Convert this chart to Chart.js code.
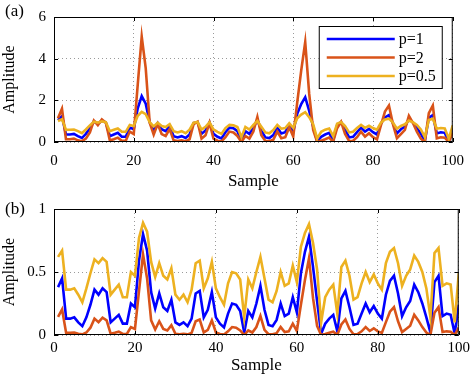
<!DOCTYPE html>
<html>
<head>
<meta charset="utf-8">
<script src="https://cdn.jsdelivr.net/npm/chart.js@4.4.1/dist/chart.umd.min.js"></script>
<style>
  body { margin: 0; background: #fff; }
  #wrap { position: relative; width: 474px; height: 384px; }
  canvas { position: absolute; left: 0; }
  .tag { position: absolute; left: 5px; font: 17px "Liberation Serif", "Times New Roman", serif; color: #000; }
</style>
</head>
<body>
<div id="wrap">
  <canvas id="chartA" width="474" height="192" style="top:0"></canvas>
  <canvas id="chartB" width="474" height="192" style="top:192px"></canvas>
  <div class="tag" style="top:1px">(a)</div>
  <div class="tag" style="top:199px">(b)</div>
</div>
<script>
var samples = [1,2,3,4,5,6,7,8,9,10,11,12,13,14,15,16,17,18,19,20,21,22,23,24,25,26,27,28,29,30,
  31,32,33,34,35,36,37,38,39,40,41,42,43,44,45,46,47,48,49,50,51,52,53,54,55,56,57,58,59,60,
  61,62,63,64,65,66,67,68,69,70,71,72,73,74,75,76,77,78,79,80,81,82,83,84,85,86,87,88,89,90,
  91,92,93,94,95,96,97,98,99,100];

var seriesNames = ['p=1', 'p=2', 'p=0.5'];
var xTicks = [0, 20, 40, 60, 80, 100];
var yTicksTop = [0, 2, 4, 6];
var yTicksBottom = [0, 0.5, 1];

// (a) panel
var p1Top = [1.05,1.24,0.36,0.36,0.39,0.28,0.19,0.39,0.66,0.99,
  0.88,1.02,0.94,0.28,0.36,0.44,0.25,0.25,0.69,0.61,
  1.62,2.20,1.84,0.94,0.58,0.91,0.61,0.52,0.77,0.28,
  0.22,0.28,0.19,0.36,0.91,0.96,0.39,0.55,0.94,0.39,
  0.25,0.17,0.47,0.69,0.66,0.52,0.06,0.52,0.39,0.69,
  1.07,0.55,0.22,0.19,0.33,0.69,0.41,0.47,0.83,0.50,
  1.35,1.82,2.15,1.49,0.74,0.03,0.25,0.36,0.44,0.08,
  0.80,0.96,0.61,0.22,0.25,0.47,0.69,0.50,0.63,0.47,
  0.36,0.88,1.18,1.29,0.91,0.41,0.61,0.74,1.10,0.94,
  0.69,0.39,0.06,1.16,1.29,0.41,0.47,0.44,0.03,0.66];
var p2Top = [1.14,1.60,0.13,0.13,0.16,0.08,0.04,0.16,0.46,1.03,
  0.81,1.08,0.92,0.08,0.13,0.21,0.06,0.06,0.50,0.38,
  2.75,5.06,3.55,0.92,0.35,0.86,0.38,0.29,0.62,0.08,
  0.05,0.08,0.04,0.13,0.86,0.97,0.16,0.32,0.92,0.16,
  0.06,0.03,0.23,0.50,0.46,0.29,0.00,0.29,0.16,0.50,
  1.20,0.32,0.05,0.04,0.11,0.50,0.18,0.23,0.71,0.26,
  1.90,3.44,4.80,2.31,0.58,0.00,0.06,0.13,0.21,0.01,
  0.66,0.97,0.38,0.05,0.06,0.23,0.50,0.26,0.42,0.23,
  0.13,0.81,1.46,1.75,0.86,0.18,0.38,0.58,1.26,0.92,
  0.50,0.16,0.00,1.39,1.75,0.18,0.23,0.21,0.00,0.46];
var p05Top = [1.01,1.09,0.59,0.59,0.60,0.52,0.42,0.60,0.80,0.98,
  0.93,0.99,0.95,0.52,0.59,0.65,0.49,0.49,0.82,0.77,
  1.26,1.45,1.34,0.95,0.75,0.93,0.77,0.72,0.86,0.52,
  0.46,0.52,0.42,0.59,0.93,0.96,0.60,0.73,0.95,0.60,
  0.49,0.39,0.67,0.82,0.80,0.72,0.23,0.72,0.60,0.82,
  1.01,0.73,0.46,0.42,0.57,0.82,0.64,0.67,0.90,0.68,
  1.14,1.32,1.43,1.19,0.85,0.16,0.49,0.59,0.65,0.28,
  0.88,0.96,0.77,0.46,0.49,0.67,0.82,0.68,0.78,0.67,
  0.59,0.93,1.08,1.12,0.93,0.64,0.77,0.85,1.03,0.95,
  0.82,0.60,0.23,1.06,1.12,0.64,0.67,0.65,0.16,0.80];

// (b) panel
var p1Bottom = [0.38,0.45,0.13,0.13,0.14,0.10,0.07,0.14,0.24,0.36,
  0.32,0.37,0.34,0.10,0.13,0.16,0.09,0.09,0.25,0.22,
  0.59,0.80,0.67,0.34,0.21,0.33,0.22,0.19,0.28,0.10,
  0.08,0.10,0.07,0.13,0.33,0.35,0.14,0.20,0.34,0.14,
  0.09,0.06,0.17,0.25,0.24,0.19,0.02,0.19,0.14,0.25,
  0.39,0.20,0.08,0.07,0.12,0.25,0.15,0.17,0.30,0.18,
  0.49,0.66,0.78,0.54,0.27,0.01,0.09,0.13,0.16,0.03,
  0.29,0.35,0.22,0.08,0.09,0.17,0.25,0.18,0.23,0.17,
  0.13,0.32,0.43,0.47,0.33,0.15,0.22,0.27,0.40,0.34,
  0.25,0.14,0.02,0.42,0.47,0.15,0.17,0.16,0.01,0.24];
var p2Bottom = [0.144,0.203,0.017,0.017,0.020,0.010,0.005,0.020,0.058,0.130,
  0.102,0.137,0.116,0.010,0.017,0.026,0.008,0.008,0.063,0.048,
  0.348,0.640,0.449,0.116,0.044,0.109,0.048,0.036,0.078,0.010,
  0.006,0.010,0.005,0.017,0.109,0.123,0.020,0.040,0.116,0.020,
  0.008,0.004,0.029,0.063,0.058,0.036,0.000,0.036,0.020,0.063,
  0.152,0.040,0.006,0.005,0.014,0.063,0.023,0.029,0.090,0.032,
  0.240,0.436,0.608,0.292,0.073,0.000,0.008,0.017,0.026,0.001,
  0.084,0.123,0.048,0.006,0.008,0.029,0.063,0.032,0.053,0.029,
  0.017,0.102,0.185,0.221,0.109,0.023,0.048,0.073,0.160,0.116,
  0.063,0.020,0.000,0.176,0.221,0.023,0.029,0.026,0.000,0.058];
var p05Bottom = [0.62,0.67,0.36,0.36,0.37,0.32,0.26,0.37,0.49,0.60,
  0.57,0.61,0.58,0.32,0.36,0.40,0.30,0.30,0.50,0.47,
  0.77,0.89,0.82,0.58,0.46,0.57,0.47,0.44,0.53,0.32,
  0.28,0.32,0.26,0.36,0.57,0.59,0.37,0.45,0.58,0.37,
  0.30,0.24,0.41,0.50,0.49,0.44,0.14,0.44,0.37,0.50,
  0.62,0.45,0.28,0.26,0.35,0.50,0.39,0.41,0.55,0.42,
  0.70,0.81,0.88,0.73,0.52,0.10,0.30,0.36,0.40,0.17,
  0.54,0.59,0.47,0.28,0.30,0.41,0.50,0.42,0.48,0.41,
  0.36,0.57,0.66,0.69,0.57,0.39,0.47,0.52,0.63,0.58,
  0.50,0.37,0.14,0.65,0.69,0.39,0.41,0.40,0.10,0.49];

var colors = ['#0000ff', '#d95319', '#edb120'];
var serif = '"Liberation Serif", "Times New Roman", serif';

function toPoints(vals) {
    return samples.map(function (s, i) { return { x: s, y: vals[i] }; });
}

function makeDatasets(a, b, c) {
    var vals = [a, b, c];
    return vals.map(function (v, i) {
        return {
            label: seriesNames[i],
            data: toPoints(v),
            borderColor: colors[i],
            borderWidth: 2.6,
            pointRadius: 0,
            tension: 0,
            fill: false,
            order: 2 - i   // p=0.5 ends up on top, like matlab plot order
        };
    });
}

// box round the axes + little inward ticks on all four sides
var framePlugin = {
    id: 'frame',
    afterDatasetsDraw: function (chart) {
        var ctx = chart.ctx, a = chart.chartArea;
        var xs = chart.scales.x, ys = chart.scales.y;
        ctx.save();
        ctx.strokeStyle = '#000';
        ctx.lineWidth = 1;
        ctx.strokeRect(a.left + 0.5, a.top + 0.5, a.right - a.left - 1, a.bottom - a.top - 1);
        ctx.beginPath();
        xs.ticks.forEach(function (t) {
            var px = Math.round(xs.getPixelForValue(t.value)) + 0.5;
            ctx.moveTo(px, a.bottom); ctx.lineTo(px, a.bottom - 4);
            ctx.moveTo(px, a.top); ctx.lineTo(px, a.top + 4);
        });
        ys.ticks.forEach(function (t) {
            var py = Math.round(ys.getPixelForValue(t.value)) + 0.5;
            ctx.moveTo(a.left, py); ctx.lineTo(a.left + 4, py);
            ctx.moveTo(a.right, py); ctx.lineTo(a.right - 4, py);
        });
        ctx.stroke();
        ctx.restore();
    }
};

// matlab style legend box in the upper right of the axes
var boxLegend = {
    id: 'boxLegend',
    afterDraw: function (chart) {
        var ctx = chart.ctx, a = chart.chartArea;
        var left = a.right - 134, top = a.top + 9, w = 123, h = 62;
        ctx.save();
        ctx.fillStyle = '#fff';
        ctx.fillRect(left, top, w, h);
        ctx.strokeStyle = '#000';
        ctx.lineWidth = 1;
        ctx.strokeRect(left + 0.5, top + 0.5, w, h);
        ctx.font = '16px ' + serif;
        ctx.textBaseline = 'middle';
        ctx.fillStyle = '#000';
        seriesNames.forEach(function (name, i) {
            var y = top + 13 + i * 18.5;
            ctx.strokeStyle = colors[i];
            ctx.lineWidth = 2.6;
            ctx.beginPath();
            ctx.moveTo(left + 8, y); ctx.lineTo(left + 76, y);
            ctx.stroke();
            ctx.fillText(name, left + 80, y + 1);
        });
        ctx.restore();
    }
};

function makeOptions(yMax, yTicks, padTop, axisH, tickPad, titlePad) {
    return {
        responsive: false,
        animation: false,
        layout: { padding: { top: padTop, right: 12, left: 0, bottom: 0 } },
        plugins: { legend: { display: false }, tooltip: { enabled: false } },
        scales: {
            x: {
                type: 'linear', min: 0, max: 100,
                afterBuildTicks: function (s) { s.ticks = xTicks.map(function (v) { return { value: v }; }); },
                afterFit: function (s) { s.height = axisH; },
                ticks: { color: '#000', font: { family: serif, size: 15 }, padding: tickPad, maxRotation: 0,
                         callback: function (v) { return String(v); } },
                grid: { color: '#9a9a9a', drawTicks: false, lineWidth: 1 },
                border: { display: false, dash: [1, 3] },
                title: { display: true, text: 'Sample', color: '#000', font: { family: serif, size: 17 }, padding: titlePad }
            },
            y: {
                min: 0, max: yMax,
                afterBuildTicks: function (s) { s.ticks = yTicks.map(function (v) { return { value: v }; }); },
                afterFit: function (s) { s.width = 54; },
                ticks: { color: '#000', font: { family: serif, size: 15 }, padding: 8,
                         callback: function (v) { return String(v); } },
                grid: { color: '#9a9a9a', drawTicks: false, lineWidth: 1 },
                border: { display: false, dash: [1, 3] },
                title: { display: true, text: 'Amplitude', color: '#000', font: { family: serif, size: 16 }, padding: 0 }
            }
        }
    };
}

var chartA = new Chart(document.getElementById('chartA').getContext('2d'), {
    type: 'line',
    data: { datasets: makeDatasets(p1Top, p2Top, p05Top) },
    options: makeOptions(6, yTicksTop, 10, 50, 10, { top: 0, bottom: 0 }),
    plugins: [framePlugin, boxLegend]
});

var chartB = new Chart(document.getElementById('chartB').getContext('2d'), {
    type: 'line',
    data: { datasets: makeDatasets(p1Bottom, p2Bottom, p05Bottom) },
    options: makeOptions(1, yTicksBottom, 11, 49, 4, { top: 0, bottom: 8 }),
    plugins: [framePlugin]
});
</script>
</body>
</html>
